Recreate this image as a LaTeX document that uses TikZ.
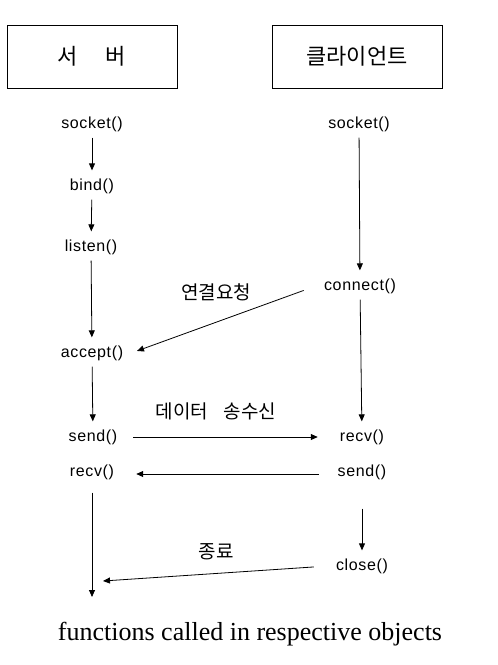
\documentclass[tikz,border=0pt]{standalone}
\usepackage{fontspec}
\setmainfont{Liberation Serif}
\newfontfamily\krfont{Noto Sans CJK KR}
\newfontfamily\fnfont[LetterSpace=4]{Liberation Sans}
\usetikzlibrary{arrows.meta}
\tikzset{
  objbox/.style={draw,line width=0.8pt,minimum width=170pt,minimum height=63pt,
    font=\krfont\fontsize{22}{26}\selectfont},
  fcall/.style={inner xsep=8pt,inner ysep=3pt,font=\fnfont\fontsize{16}{19}\selectfont},
  msg/.style={font=\krfont\fontsize{19}{22}\selectfont},
  flow/.style={-{Triangle[length=7pt,width=6pt]},line width=0.8pt,
    shorten <=3pt,shorten >=5pt},
}

\begin{document}
\begin{tikzpicture}[x=1pt,y=-1pt]
  \useasboundingbox (0,0) rectangle (498,665);
  % objects
  \node[objbox] (srv) at (92,56.5) {서\hspace{28pt}버};
  \node[objbox] (cli) at (357,56.5) {클라이언트};
  % server side calls
  \node[fcall] (sockS) at (92,124) {socket()};
  \node[fcall] (bindS) at (92,186) {bind()};
  \node[fcall] (lstS) at (91,247) {listen()};
  \node[fcall] (accS) at (92,353) {accept()};
  \node[fcall] (sendS) at (93,437) {send()};
  \node[fcall] (recvS) at (92,472) {recv()};
  \coordinate (finS) at (92,597);
  \coordinate (endS) at (103,581);
  % client side calls
  \node[fcall] (sockC) at (359,124) {socket()};
  \node[fcall] (conC) at (360,286) {connect()};
  \node[fcall] (recvC) at (362,437) {recv()};
  \node[fcall] (sendC) at (362,472) {send()};
  \node[fcall] (clsC) at (362,566) {close()};
  % flow down each column
  \draw[flow] (sockS) -- (bindS);
  \draw[flow] (bindS) -- (lstS);
  \draw[flow] (lstS) -- (accS);
  \draw[flow] (accS) -- (sendS);
  \draw[flow,shorten <=10pt,shorten >=0pt] (recvS) -- (finS);
  \draw[flow] (sockC) -- (conC);
  \draw[flow] (conC) -- (recvC);
  \draw[flow,shorten <=26pt] (sendC) -- (clsC);
  % messages between the two
  \draw[flow,shorten <=13pt,shorten >=6pt] (conC.west) -- (accS.east);
  \draw[flow,shorten <=8pt,shorten >=14pt] (sendS.east) -- (recvC.west);
  \draw[flow,shorten <=11pt,shorten >=14pt] ([yshift=-2pt]sendC.west) -- ([yshift=-2pt]recvS.east);
  \draw[flow,shorten <=14pt,shorten >=0pt] (clsC.west) -- (endS);
  \node[msg] (reqL) at (216,292) {연결요청};
  \node[msg] (dataL) at (216,411) {데이터\hspace{16pt}송수신};
  \node[msg] (endL) at (216,552) {종료};
  \node[font=\fontsize{26}{30}\selectfont] (cap) at (250,634) {functions called in respective objects};
\end{tikzpicture}
\end{document}
